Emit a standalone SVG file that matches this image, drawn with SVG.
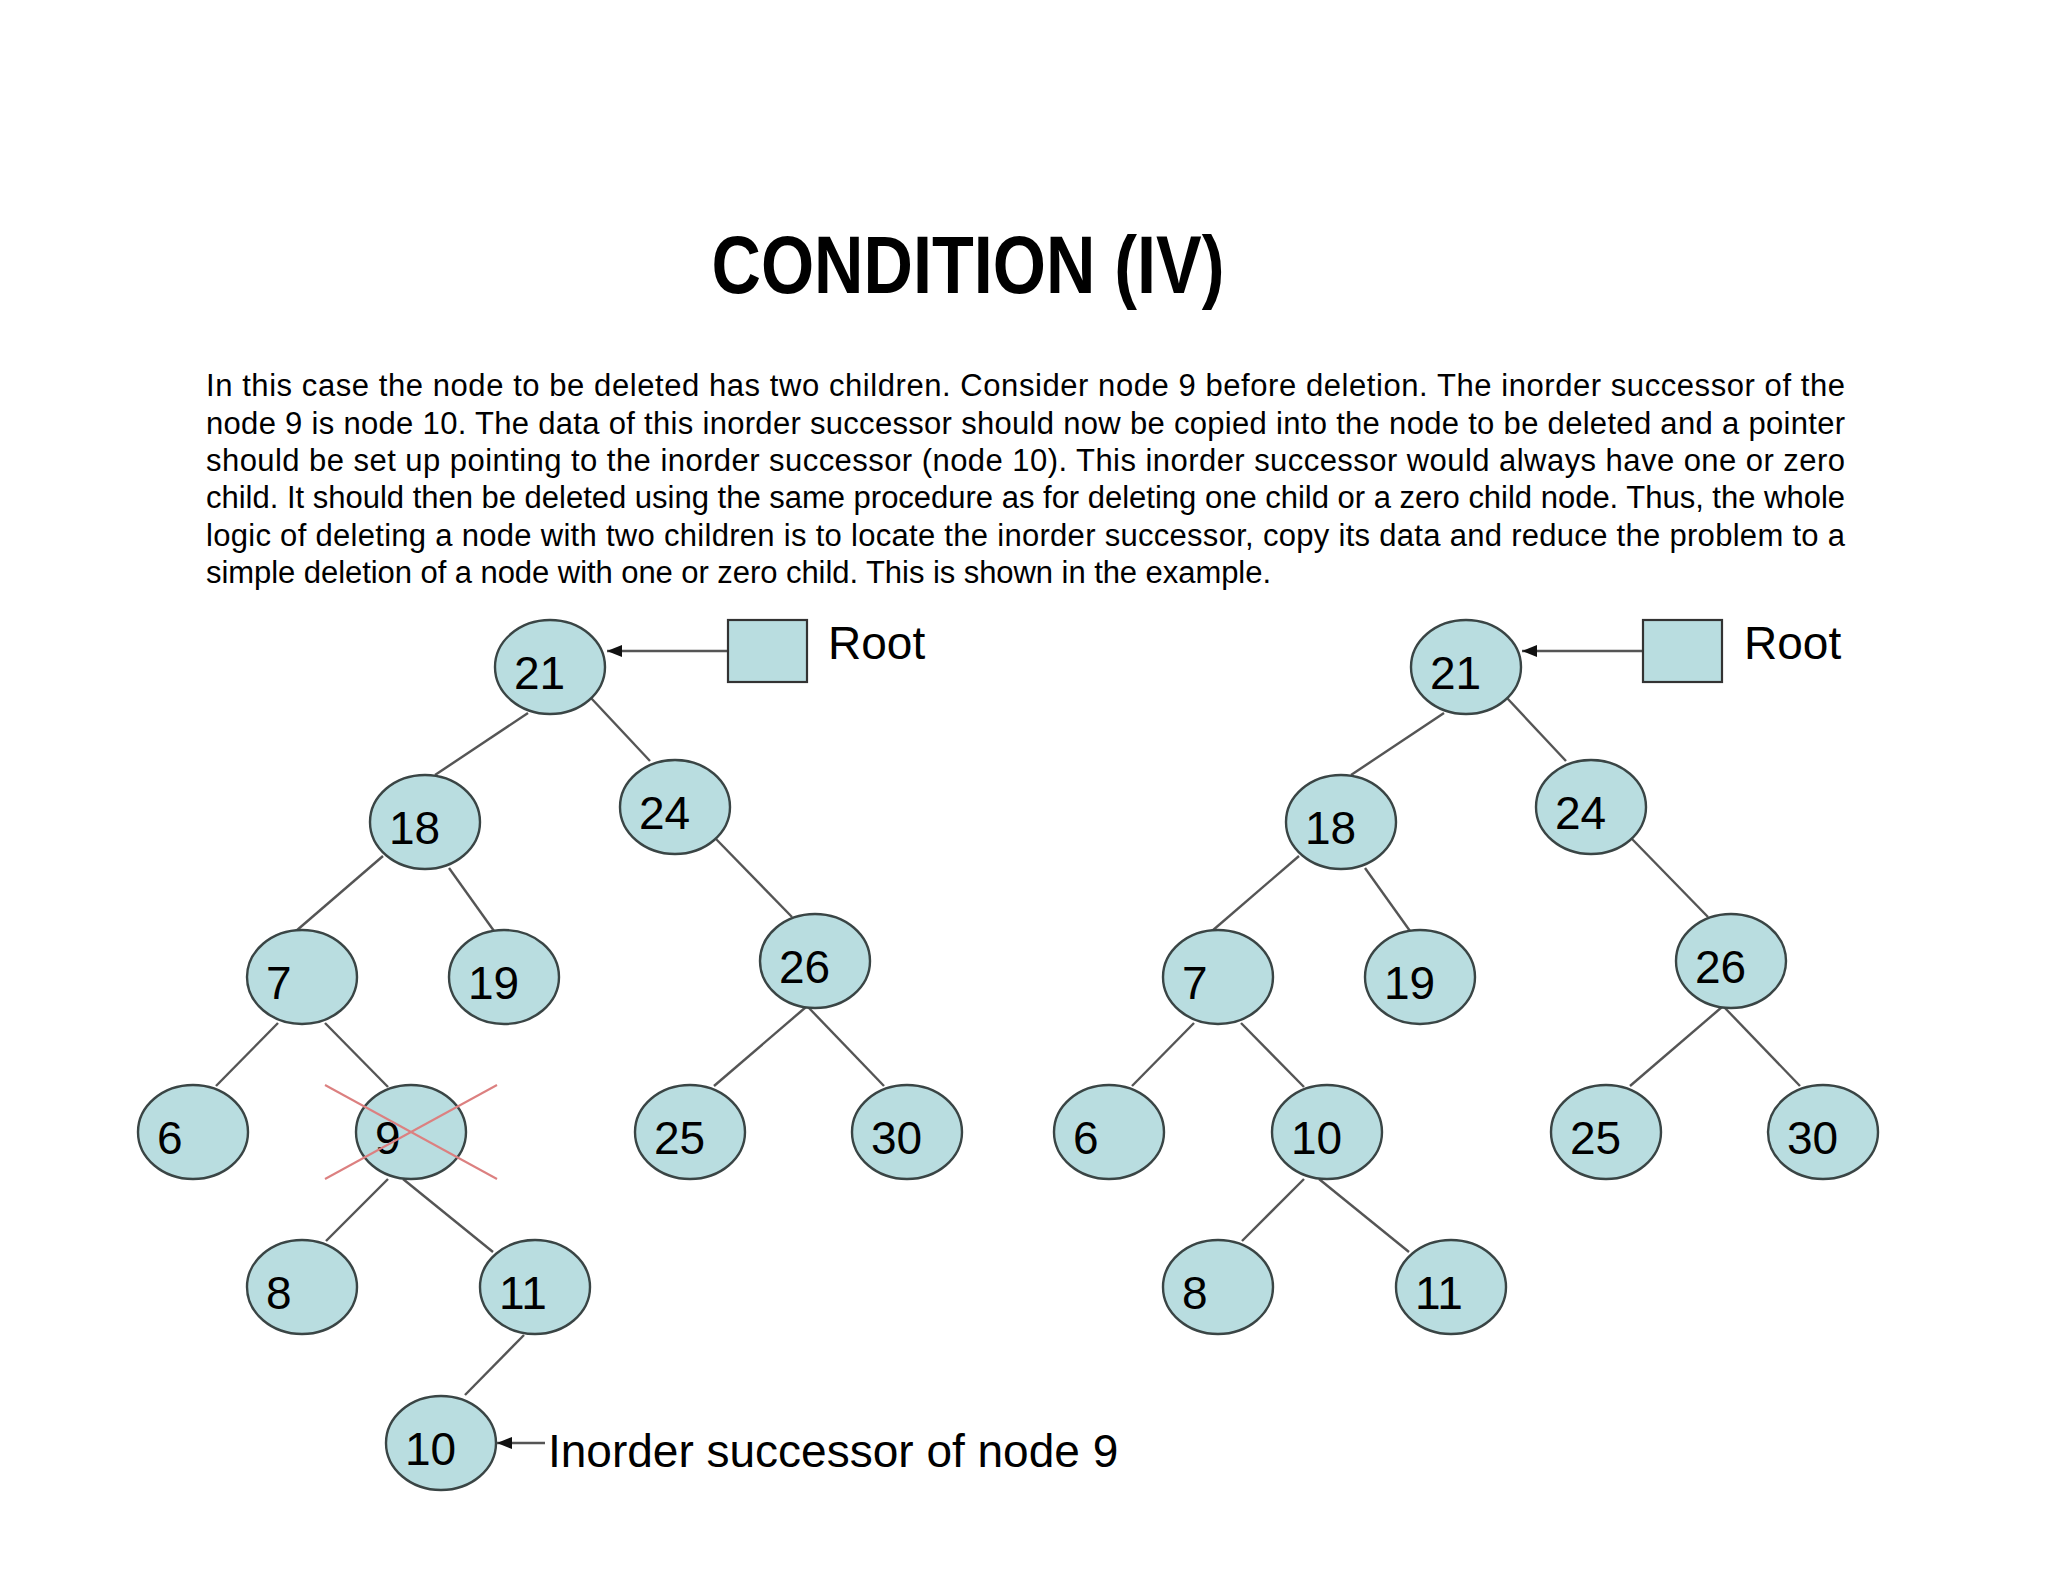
<svg xmlns="http://www.w3.org/2000/svg" width="2048" height="1582" viewBox="0 0 2048 1582">
<style>
.t{font-family:"Liberation Sans",Arial,sans-serif;fill:#000}
.title{font-size:82px;font-weight:bold}
.p{font-size:31px}
.lbl{font-size:46px}
.n ellipse{fill:#b9dde0;stroke:#3a4545;stroke-width:2.4}
.edge line{stroke:#555;stroke-width:2.4}
.ptr{stroke:#111;stroke-width:2;fill:none}
.box{fill:#b9dde0;stroke:#333;stroke-width:2.2}
.x{stroke:#dc8080;stroke-width:2}
</style>
<defs>
<marker id="ah" markerUnits="userSpaceOnUse" markerWidth="16" markerHeight="14" refX="15" refY="7" orient="auto">
<path d="M0,1 L15,7 L0,13 Z" fill="#111"/>
</marker>
</defs>
<rect width="2048" height="1582" fill="#fff"/>

<text class="t title" x="968" y="293" text-anchor="middle" textLength="513" lengthAdjust="spacingAndGlyphs">CONDITION (IV)</text>

<g id="paragraph">
<text class="t p" x="206" y="396" textLength="1639" lengthAdjust="spacing">In this case the node to be deleted has two children. Consider node 9 before deletion. The inorder successor of the</text>
<text class="t p" x="206" y="433.5" textLength="1639" lengthAdjust="spacing">node 9 is node 10. The data of this inorder successor should now be copied into the node to be deleted and a pointer</text>
<text class="t p" x="206" y="471" textLength="1639" lengthAdjust="spacing">should be set up pointing to the inorder successor (node 10). This inorder successor would always have one or zero</text>
<text class="t p" x="206" y="508" textLength="1639" lengthAdjust="spacing">child. It should then be deleted using the same procedure as for deleting one child or a zero child node. Thus, the whole</text>
<text class="t p" x="206" y="545.5" textLength="1639" lengthAdjust="spacing">logic of deleting a node with two children is to locate the inorder successor, copy its data and reduce the problem to a</text>
<text class="t p" x="206" y="583" textLength="1065" lengthAdjust="spacing">simple deletion of a node with one or zero child. This is shown in the example.</text>
</g>

<g id="connectors" class="edge">
<line x1="528" y1="713" x2="435" y2="775"/>
<line x1="591" y1="698" x2="650" y2="761"/>
<line x1="383" y1="856" x2="296" y2="931"/>
<line x1="449" y1="868" x2="494" y2="931"/>
<line x1="716" y1="839" x2="792" y2="917"/>
<line x1="806" y1="1007" x2="714" y2="1086"/>
<line x1="808" y1="1007" x2="884" y2="1086"/>
<line x1="278" y1="1023" x2="216" y2="1086"/>
<line x1="325" y1="1023" x2="388" y2="1087"/>
<line x1="388" y1="1179" x2="326" y2="1241"/>
<line x1="403" y1="1179" x2="493" y2="1252"/>
<line x1="524" y1="1335" x2="465" y2="1395"/>

<line x1="1444" y1="713" x2="1351" y2="775"/>
<line x1="1507" y1="698" x2="1566" y2="761"/>
<line x1="1299" y1="856" x2="1212" y2="931"/>
<line x1="1365" y1="868" x2="1410" y2="931"/>
<line x1="1632" y1="839" x2="1708" y2="917"/>
<line x1="1722" y1="1007" x2="1630" y2="1086"/>
<line x1="1724" y1="1007" x2="1800" y2="1086"/>
<line x1="1194" y1="1023" x2="1132" y2="1086"/>
<line x1="1241" y1="1023" x2="1304" y2="1087"/>
<line x1="1304" y1="1179" x2="1242" y2="1241"/>
<line x1="1319" y1="1179" x2="1409" y2="1252"/>

<line class="ptr" x1="728" y1="651" x2="607" y2="651" marker-end="url(#ah)"/>
<line class="ptr" x1="1643" y1="651" x2="1522" y2="651" marker-end="url(#ah)"/>
<line class="ptr" x1="545" y1="1443" x2="497" y2="1443" marker-end="url(#ah)"/>
</g>

<g id="root-left"><rect class="box" x="728" y="620" width="79" height="62"/><text class="t lbl" x="828" y="659">Root</text></g>
<g id="root-right"><rect class="box" x="1643" y="620" width="79" height="62"/><text class="t lbl" x="1744" y="659">Root</text></g>

<g id="L21" class="n"><ellipse cx="550" cy="667" rx="55" ry="47"/><text class="t lbl" x="514" y="689">21</text></g>
<g id="L18" class="n"><ellipse cx="425" cy="822" rx="55" ry="47"/><text class="t lbl" x="389" y="844">18</text></g>
<g id="L24" class="n"><ellipse cx="675" cy="807" rx="55" ry="47"/><text class="t lbl" x="639" y="829">24</text></g>
<g id="L7" class="n"><ellipse cx="302" cy="977" rx="55" ry="47"/><text class="t lbl" x="266" y="999">7</text></g>
<g id="L19" class="n"><ellipse cx="504" cy="977" rx="55" ry="47"/><text class="t lbl" x="468" y="999">19</text></g>
<g id="L26" class="n"><ellipse cx="815" cy="961" rx="55" ry="47"/><text class="t lbl" x="779" y="983">26</text></g>
<g id="L6" class="n"><ellipse cx="193" cy="1132" rx="55" ry="47"/><text class="t lbl" x="157" y="1154">6</text></g>
<g id="L9" class="n"><ellipse cx="411" cy="1132" rx="55" ry="47"/><text class="t lbl" x="375" y="1154">9</text>
<line class="x" x1="325" y1="1085" x2="497" y2="1179"/><line class="x" x1="325" y1="1179" x2="497" y2="1085"/></g>
<g id="L25" class="n"><ellipse cx="690" cy="1132" rx="55" ry="47"/><text class="t lbl" x="654" y="1154">25</text></g>
<g id="L30" class="n"><ellipse cx="907" cy="1132" rx="55" ry="47"/><text class="t lbl" x="871" y="1154">30</text></g>
<g id="L8" class="n"><ellipse cx="302" cy="1287" rx="55" ry="47"/><text class="t lbl" x="266" y="1309">8</text></g>
<g id="L11" class="n"><ellipse cx="535" cy="1287" rx="55" ry="47"/><text class="t lbl" x="499" y="1309">11</text></g>
<g id="L10" class="n"><ellipse cx="441" cy="1443" rx="55" ry="47"/><text class="t lbl" x="405" y="1465">10</text></g>
<g id="succ-label"><text class="t lbl" x="548" y="1467">Inorder successor of node 9</text></g>

<g id="R21" class="n"><ellipse cx="1466" cy="667" rx="55" ry="47"/><text class="t lbl" x="1430" y="689">21</text></g>
<g id="R18" class="n"><ellipse cx="1341" cy="822" rx="55" ry="47"/><text class="t lbl" x="1305" y="844">18</text></g>
<g id="R24" class="n"><ellipse cx="1591" cy="807" rx="55" ry="47"/><text class="t lbl" x="1555" y="829">24</text></g>
<g id="R7" class="n"><ellipse cx="1218" cy="977" rx="55" ry="47"/><text class="t lbl" x="1182" y="999">7</text></g>
<g id="R19" class="n"><ellipse cx="1420" cy="977" rx="55" ry="47"/><text class="t lbl" x="1384" y="999">19</text></g>
<g id="R26" class="n"><ellipse cx="1731" cy="961" rx="55" ry="47"/><text class="t lbl" x="1695" y="983">26</text></g>
<g id="R6" class="n"><ellipse cx="1109" cy="1132" rx="55" ry="47"/><text class="t lbl" x="1073" y="1154">6</text></g>
<g id="R10" class="n"><ellipse cx="1327" cy="1132" rx="55" ry="47"/><text class="t lbl" x="1291" y="1154">10</text></g>
<g id="R25" class="n"><ellipse cx="1606" cy="1132" rx="55" ry="47"/><text class="t lbl" x="1570" y="1154">25</text></g>
<g id="R30" class="n"><ellipse cx="1823" cy="1132" rx="55" ry="47"/><text class="t lbl" x="1787" y="1154">30</text></g>
<g id="R8" class="n"><ellipse cx="1218" cy="1287" rx="55" ry="47"/><text class="t lbl" x="1182" y="1309">8</text></g>
<g id="R11" class="n"><ellipse cx="1451" cy="1287" rx="55" ry="47"/><text class="t lbl" x="1415" y="1309">11</text></g>
</svg>
